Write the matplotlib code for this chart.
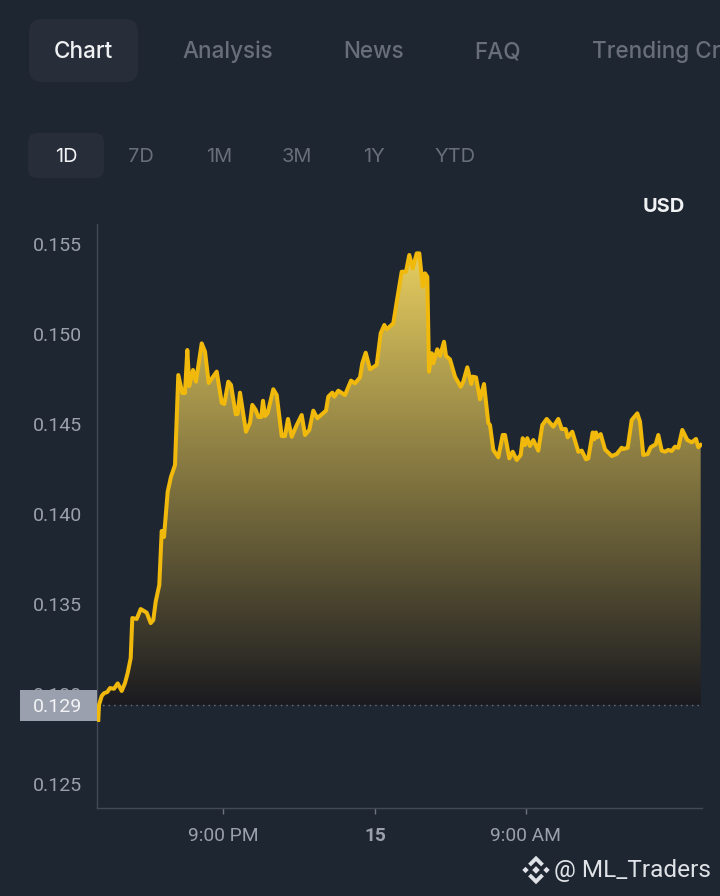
import numpy as np
import matplotlib
matplotlib.use("Agg")
import matplotlib.pyplot as plt
from matplotlib.colors import LinearSegmentedColormap
from matplotlib.patches import FancyBboxPatch, Polygon, Rectangle

# position along the time axis (arbitrary units, 605 across the chart)
temps = [1.3, 2, 4.7, 7, 10.3, 13, 17, 20.7, 24.7, 28, 30.7, 33.7, 35.3, 39.7, 43.7, 49.7, 53.7, 56.3, 58.7, 62.3,
         64.7, 67, 70.7, 74, 78, 81.3, 85.3, 88, 90.3, 92.3, 96, 99, 104.7, 108, 111.7, 119.7, 124.7, 127.3, 131.3, 134,
         138.7, 140.7, 143, 149, 153, 155.3, 158.7, 161.3, 164.3, 166, 168, 170.7, 176.3, 179.7, 184.7, 188, 191, 194.7, 199.7, 204.7,
         208, 212.3, 216.3, 220.3, 229, 231.3, 235.3, 237.3, 241.3, 248, 254, 258, 263, 265.3, 268.7, 273, 279.7, 283.7, 287.3, 289.7,
         296.3, 300.3, 304.7, 309, 312.3, 315.7, 319.7, 322.3, 325.7, 328, 330.3, 332, 334.7, 336.3, 340.3, 343, 347, 349, 353, 358,
         363.7, 366.3, 370.3, 374.3, 375.7, 379, 383, 387, 391.3, 393, 396.3, 401.3, 405.7, 408, 412.3, 415.7, 419.7, 423.7, 425.7, 428,
         430.3, 433, 436.3, 441.3, 445.3, 449.7, 456.3, 461.3, 464.7, 468.7, 470.7, 475.3, 481.3, 484.7, 489, 491.3, 495.7, 497.3, 499, 500.3,
         503.7, 508, 514.7, 519.7, 524.7, 526.3, 530.7, 534.7, 540.3, 543, 546.3, 550.7, 553.7, 558.7, 561.3, 564.7, 568, 571.3, 574.7, 578,
         581.3, 585.3, 590.3, 594.7, 599, 601.3, 603.7]

prix = [0.12856, 0.12939, 0.12989, 0.13004, 0.13011, 0.13033, 0.13029, 0.13059, 0.13017, 0.13061, 0.13117, 0.13200, 0.13422, 0.13417, 0.13472, 0.13452, 0.13394, 0.13411, 0.13513, 0.13606,
        0.13906, 0.13872, 0.14124, 0.14207, 0.14272, 0.14772, 0.14672, 0.14672, 0.14911, 0.14711, 0.14800, 0.14735, 0.14948, 0.14902, 0.14728, 0.14791, 0.14618, 0.14611, 0.14735, 0.14717,
        0.14554, 0.14556, 0.14674, 0.14457, 0.14506, 0.14606, 0.14578, 0.14539, 0.14539, 0.14629, 0.14544, 0.14561, 0.14693, 0.14661, 0.14433, 0.14433, 0.14528, 0.14429, 0.14494, 0.14550,
        0.14439, 0.14467, 0.14574, 0.14532, 0.14574, 0.14652, 0.14674, 0.14652, 0.14685, 0.14661, 0.14741, 0.14726, 0.14759, 0.14837, 0.14896, 0.14804, 0.14828, 0.15004, 0.15050, 0.15026,
        0.15059, 0.15198, 0.15346, 0.15346, 0.15439, 0.15365, 0.15448, 0.15448, 0.15263, 0.15337, 0.15318, 0.14791, 0.14893, 0.14837, 0.14915, 0.14878, 0.14957, 0.14878, 0.14859, 0.14763,
        0.14707, 0.14735, 0.14815, 0.14722, 0.14763, 0.14759, 0.14637, 0.14722, 0.14506, 0.14494, 0.14356, 0.14315, 0.14439, 0.14439, 0.14309, 0.14346, 0.14300, 0.14328, 0.14421, 0.14383,
        0.14421, 0.14378, 0.14411, 0.14352, 0.14494, 0.14528, 0.14485, 0.14528, 0.14472, 0.14472, 0.14426, 0.14457, 0.14346, 0.14352, 0.14304, 0.14309, 0.14453, 0.14415, 0.14453, 0.14426,
        0.14444, 0.14359, 0.14322, 0.14333, 0.14368, 0.14361, 0.14368, 0.14522, 0.14559, 0.14513, 0.14328, 0.14333, 0.14371, 0.14387, 0.14439, 0.14352, 0.14346, 0.14356, 0.14350, 0.14374,
        0.14368, 0.14467, 0.14411, 0.14398, 0.14417, 0.14371, 0.14383]

prix_ticks = [0.125, 0.130, 0.135, 0.140, 0.145, 0.150, 0.155]
temps_ticks = [126, 278, 429]
temps_labels = ["9:00 PM", "15", "9:00 AM"]
prix_ref = 0.12939
onglets = ["Chart", "Analysis", "News", "FAQ", "Trending Cr"]
periodes = ["1D", "7D", "1M", "3M", "1Y", "YTD"]

FOND = "#1e2631"
JAUNE = "#f0b90b"
GRIS = "#9aa1ab"
INACTIF = "#686f7b"
W, H = 720, 896

fig = plt.figure(figsize=(W / 100, H / 100), dpi=100, facecolor=FOND)

# main chart, placed on the same pixels as the reference
ax = fig.add_axes([97 / W, 1 - 808 / H, 605 / W, 584 / H], facecolor=FOND)

# yellow to dark gradient, clipped to the area under the line
cmap = LinearSegmentedColormap.from_list("degrade", ["#1b1b20", "#e6cd5f"])
grad = np.linspace(1, 0, 256).reshape(-1, 1)
im = ax.imshow(grad, cmap=cmap, aspect="auto", zorder=1,
               extent=[0, 605, prix_ref, max(prix)])
contour = Polygon(list(zip(temps, np.maximum(prix, prix_ref))) + [(temps[-1], prix_ref), (temps[0], prix_ref)],
                  transform=ax.transData, facecolor="none", edgecolor="none")
ax.add_patch(contour)
im.set_clip_path(contour)
ax.set_xlim(0, 605)
ax.set_ylim(0.123667, 0.156111)

ax.axhline(prix_ref, color="#6d7480", lw=1, ls=(0, (1, 3)), zorder=2)
ax.plot(temps, prix, color=JAUNE, lw=2.9, solid_joinstyle="round", zorder=3)

for cote in ["top", "right"]:
    ax.spines[cote].set_visible(False)
for cote in ["left", "bottom"]:
    ax.spines[cote].set_color("#434a56")
    ax.spines[cote].set_linewidth(1)

ax.set_yticks(prix_ticks)
ax.set_yticklabels(["%.3f" % p for p in prix_ticks], family="Roboto", fontsize=14, color=GRIS)
ax.tick_params(axis="y", length=0, pad=11)
ax.set_xticks(temps_ticks)
ax.set_xticklabels(temps_labels, family="Roboto", fontsize=13.8, color=GRIS)
ax.tick_params(axis="x", length=4, width=1, color="#6d7480", pad=10)
ax.get_xticklabels()[1].set_fontweight("bold")

# overlay in pixel coordinates for tabs and labels
ui = fig.add_axes([0, 0, 1, 1], facecolor="none", zorder=5)
ui.set_xlim(0, W)
ui.set_ylim(H, 0)
ui.axis("off")

ui.add_patch(FancyBboxPatch((29, 19), 109, 63, boxstyle="round,pad=0,rounding_size=13", lw=0, fc="#282d3a"))
ui.add_patch(FancyBboxPatch((28, 133), 76, 45, boxstyle="round,pad=0,rounding_size=9", lw=0, fc="#282d3a"))

x_onglets = [83, 228, 374, 498, 592]
for i, nom in enumerate(onglets):
    ha = "left" if i == 4 else "center"
    ui.text(x_onglets[i], 52, nom, family="Inter", fontsize=16.2, ha=ha, va="center",
            color="#f0f1f3" if i == 0 else INACTIF, fontweight="medium")

x_periodes = [66, 141, 219, 297, 374, 455]
for i, nom in enumerate(periodes):
    ui.text(x_periodes[i], 156.5, nom, family="Inter", fontsize=14.4, ha="center", va="center",
            color="#f0f1f3" if i == 0 else INACTIF)

ui.text(685, 207, "USD", family="Inter", fontsize=14.4, fontweight="bold", ha="right", va="center", color="#f0f1f3")

# current price tag, hides the 0.130 tick label
ui.add_patch(Rectangle((20, 690), 77, 31, fc="#9aa0ad", ec="none"))
ui.text(57.5, 706.5, "0.129", family="Roboto", fontsize=14, ha="center", va="center", color="#f2f3f5")

# watermark with the small logo
gris_clair = "#dfe2e6"
for cx, cy, r in [(525.5, 870, 3.2), (546.5, 870, 3.2), (536, 870, 3.8)]:
    ui.add_patch(Polygon([(cx - r, cy), (cx, cy - r), (cx + r, cy), (cx, cy + r)], fc=gris_clair, ec="none"))
for sens in [-1, 1]:
    ui.plot([529.5, 536, 542.5], [870 + sens * 5, 870 + sens * 11.5, 870 + sens * 5], color=gris_clair, lw=2.8,
            solid_joinstyle="miter", solid_capstyle="butt")
ui.text(554, 870, "@ ML_Traders", family="Roboto", fontsize=17.6, ha="left", va="center", color=gris_clair)

fig.savefig("out.png", dpi=100, facecolor=FOND)
